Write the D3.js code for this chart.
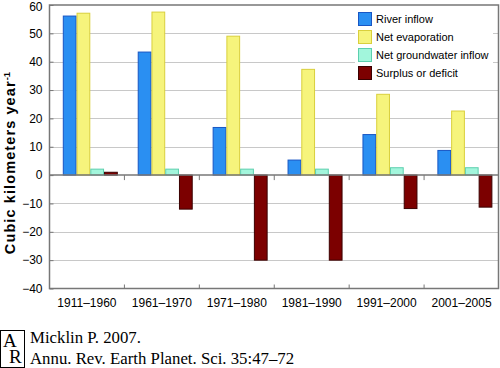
<!DOCTYPE html>
<html><head><meta charset="utf-8">
<script src="https://cdn.jsdelivr.net/npm/d3@7"></script>
<style>body{margin:0;background:#fff;}svg{display:block;}</style>
</head><body>
<svg id="c" width="500" height="368"></svg>
<script>
const categories = ["1911–1960","1961–1970","1971–1980","1981–1990","1991–2000","2001–2005"];
const seriesNames = ["River inflow","Net evaporation","Net groundwater inflow","Surplus or deficit"];
const riverInflow = [56.1, 43.4, 16.8, 5.3, 14.3, 8.7];
const netEvaporation = [57.1, 57.5, 49.0, 37.3, 28.5, 22.6];
const groundwaterInflow = [2.1, 2.1, 2.1, 2.1, 2.6, 2.6];
const surplusDeficit = [1.0, -12.0, -30.0, -30.0, -11.8, -11.3];
const yTicks = [60,50,40,30,20,10,0,-10,-20,-30,-40];

const series = [riverInflow, netEvaporation, groundwaterInflow, surplusDeficit];
const fills = ["#2a8ff2","#f6f47c","#a2f6dc","#7c0000"];
const strokes = ["#1856c4","#d9cf3c","#5ccfae","#3a0000"];

const svg = d3.select("#c");
const L = 49.5, R = 499, T = 5, B = 288.5;
const y = d3.scaleLinear().domain([-40, 60]).range([B, T]);
const x0 = d3.scaleBand().domain(categories).range([L, R]).padding(0);
const x1 = d3.scaleBand().domain(d3.range(4)).range([13.3, 68.3]).padding(0);

// grid
svg.append("g").selectAll("line").data(yTicks.filter(v => v !== 0 && v !== -40 && v !== 60))
  .join("line")
  .attr("x1", L).attr("x2", R)
  .attr("y1", d => Math.round(y(d)) + 0.5).attr("y2", d => Math.round(y(d)) + 0.5)
  .attr("stroke", "#c8c8c8").attr("stroke-width", 1);

// bars
const g = svg.append("g");
categories.forEach((c, ci) => {
  series.forEach((s, si) => {
    const v = s[ci];
    const x = x0(c) + x1(si);
    g.append("rect")
      .attr("x", x + 0.5)
      .attr("width", x1.bandwidth() - 1)
      .attr("y", v >= 0 ? y(v) : y(0))
      .attr("height", Math.abs(y(v) - y(0)))
      .attr("fill", fills[si]).attr("stroke", strokes[si]).attr("stroke-width", 1);
  });
});

// frame
svg.append("rect").attr("x", L).attr("y", T).attr("width", R - L - 0.5).attr("height", B - T)
  .attr("fill", "none").attr("stroke", "#777").attr("stroke-width", 1.5);

// zero line
svg.append("line").attr("x1", L).attr("x2", R).attr("y1", y(0)).attr("y2", y(0))
  .attr("stroke", "#777").attr("stroke-width", 1.5);

// y axis ticks and labels
const yAxis = d3.axisLeft(y).tickValues(yTicks).tickSize(-4).tickPadding(7).tickFormat(d3.format("d"));
const ya = svg.append("g").attr("transform", `translate(${L},0)`).call(yAxis);
ya.select(".domain").remove();
ya.selectAll(".tick line").attr("stroke", "#777");
ya.selectAll("text").attr("font-family", "Liberation Sans, Arial, sans-serif").attr("font-size", 12).attr("fill", "#000");
ya.selectAll(".tick").filter(d => d === 60).select("text").attr("dy", "0.42em");

// category boundary ticks
const bounds = categories.slice(1).map(c => x0(c));
svg.append("g").selectAll("line.z").data(bounds).join("line")
  .attr("x1", d => d).attr("x2", d => d).attr("y1", y(0)).attr("y2", y(0) + 5)
  .attr("stroke", "#777").attr("stroke-width", 1);
svg.append("g").selectAll("line.b").data(bounds).join("line")
  .attr("x1", d => d).attr("x2", d => d).attr("y1", B).attr("y2", B - 4)
  .attr("stroke", "#777").attr("stroke-width", 1);

// x labels
const xAxis = d3.axisBottom(x0).tickSize(0).tickPadding(10);
const xa = svg.append("g").attr("transform", `translate(0,${B})`).call(xAxis);
xa.select(".domain").remove();
xa.selectAll("text").attr("font-family", "Liberation Sans, Arial, sans-serif").attr("font-size", 12).attr("fill", "#000");

// y title
const yt = svg.append("text").attr("transform", "translate(15,163) rotate(-90)")
  .attr("text-anchor", "middle").attr("font-family", "Liberation Sans, Arial, sans-serif")
  .attr("font-size", 14.5).attr("font-weight", "bold").attr("letter-spacing", 1.1);
yt.append("tspan").text("Cubic kilometers year");
yt.append("tspan").attr("dy", -5.5).attr("font-size", 9.5).attr("letter-spacing", 0).text("-1");

// legend
const lg = svg.append("g");
lg.append("rect").attr("x", 355).attr("y", 8).attr("width", 138).attr("height", 73).attr("fill", "#fff");
seriesNames.forEach((n, i) => {
  lg.append("rect").attr("x", 358.5).attr("y", 12.5 + i * 18).attr("width", 13).attr("height", 13)
    .attr("fill", fills[i]).attr("stroke", strokes[i]);
  lg.append("text").attr("x", 376).attr("y", 23 + i * 18)
    .attr("font-family", "Liberation Sans, Arial, sans-serif").attr("font-size", 11).text(n);
});

// attribution
const ag = svg.append("g");
ag.append("rect").attr("x", 0.5).attr("y", 330.5).attr("width", 24).attr("height", 37).attr("fill", "none").attr("stroke", "#000");
const logo = ag.append("text").attr("font-family", "Liberation Serif, serif").attr("font-size", 19);
logo.append("tspan").attr("x", 3).attr("y", 347).text("A");
logo.append("tspan").attr("x", 9).attr("y", 363).text("R");
ag.append("text").attr("x", 30).attr("y", 343).attr("font-family", "Liberation Serif, serif").attr("font-size", 16.8).text("Micklin P. 2007.");
ag.append("text").attr("x", 30).attr("y", 364).attr("font-family", "Liberation Serif, serif").attr("font-size", 16.8).text("Annu. Rev. Earth Planet. Sci. 35:47–72");
</script>
</body></html>
